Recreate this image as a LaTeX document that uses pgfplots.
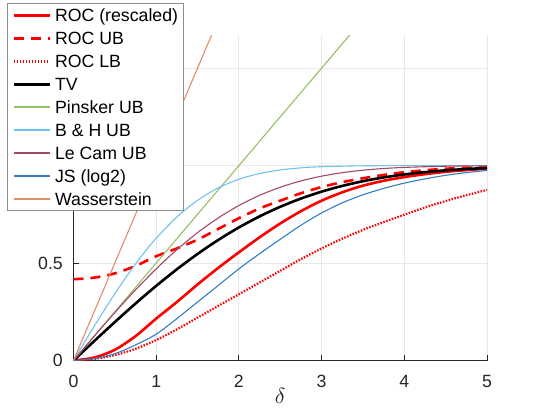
\documentclass[border=0pt]{standalone}
\usepackage{fontspec}
\setmainfont{Liberation Sans}
\usepackage{pgfplots}
\pgfplotsset{compat=1.18}

\definecolor{pinsk}{RGB}{150,190,100}
\definecolor{bandh}{RGB}{110,195,235}
\definecolor{lecam}{RGB}{165,70,105}
\definecolor{jsblue}{RGB}{50,125,195}
\definecolor{wass}{RGB}{225,140,105}
\definecolor{axgray}{RGB}{38,38,38}

\newcommand{\lfont}{\fontsize{8.85}{10.5}\selectfont}

\pgfplotsset{
    thinline/.style={draw=#1, line width=0.55pt,
        legend image code/.code={\draw[draw=#1, line width=1pt] (0pt,0pt) -- (18pt,0pt);}},
}

\begin{document}
\begin{tikzpicture}
\useasboundingbox (-36.75pt,-29.25pt) rectangle (233.75pt,180.25pt);
\begin{axis}[
    at={(0,0)}, anchor=south west,
    scale only axis,
    width=206.75pt, height=162.75pt,
    xmin=0, xmax=5, ymin=0, ymax=1.67,
    xtick={0,1,2,3,4,5},
    ytick={0,0.5,1,1.5},
    yticklabels={0,0.5,{},{}},
    axis x line*=bottom, axis y line*=left,
    axis line style={-, draw=axgray, line width=0.5pt},
    tick style={draw=axgray, line width=0.5pt},
    tick align=inside, major tick length=3pt,
    grid=major,
    major grid style={draw=black!9, line width=0.5pt},
    /pgf/number format/assume math mode=true,
    ticklabel style={font=\lfont, text=axgray},
    xticklabel style={yshift=-3.8pt},
    yticklabel style={xshift=-1.8pt},
    xlabel={$\delta$},
    xlabel style={at={(axis description cs:0.5,0)}, anchor=center,
        yshift=-17.5pt, font=\fontsize{11}{13}\selectfont, text=axgray},
    legend cell align=left,
    legend image code/.code={\draw[#1] (0pt,0pt) -- (18pt,0pt);},
    legend style={at={(-0.1608,1.0968)}, anchor=north west,
        draw=black!45, line width=0.5pt, fill=white, font=\lfont,
        inner xsep=2.5pt, inner ysep=0.5pt, row sep=1pt, column sep=2pt,
        nodes={draw=none, fill=none, inner sep=0pt,
               text height=8.45pt, text depth=2.05pt}},
]
% ROC (rescaled)
\addplot[draw=red, line width=1.3pt, smooth] table {
x y
0 0
0.25 0.015
0.5 0.055
0.75 0.125
1 0.215
1.25 0.30
1.5 0.39
1.75 0.475
2 0.555
2.25 0.632
2.5 0.703
2.75 0.766
3 0.82
3.25 0.863
3.5 0.897
3.75 0.922
4 0.941
4.25 0.956
4.5 0.968
4.75 0.977
5 0.984
};
\addlegendentry{ROC (rescaled)}
% ROC UB
\addplot[draw=red, line width=1.3pt, dash pattern=on 5pt off 3.5pt, smooth] table {
x y
0 0.417
0.25 0.425
0.5 0.447
0.75 0.485
1 0.535
1.25 0.575
1.5 0.62
1.75 0.675
2 0.73
2.25 0.78
2.5 0.82
2.75 0.858
3 0.89
3.25 0.915
3.5 0.935
3.75 0.952
4 0.966
4.25 0.976
4.5 0.984
4.75 0.989
5 0.992
};
\addlegendentry{ROC UB}
% ROC LB
\addplot[draw=red, line width=1.1pt, dash pattern=on 0.75pt off 0.75pt, smooth] table {
x y
0 0
0.25 0.008
0.5 0.028
0.75 0.06
1 0.105
1.25 0.16
1.5 0.22
1.75 0.28
2 0.34
2.25 0.40
2.5 0.46
2.75 0.52
3 0.575
3.25 0.625
3.5 0.67
3.75 0.71
4 0.748
4.25 0.785
4.5 0.818
4.75 0.848
5 0.875
};
\addlegendentry{ROC LB}
% TV
\addplot[draw=black, line width=1.3pt, smooth] table {
x y
0 0
0.25 0.0995
0.5 0.1974
0.75 0.2923
1 0.3829
1.25 0.4680
1.5 0.5467
1.75 0.6184
2 0.6827
2.25 0.7394
2.5 0.7887
2.75 0.8309
3 0.8664
3.25 0.8958
3.5 0.9199
3.75 0.9392
4 0.9545
4.25 0.9664
4.5 0.9756
4.75 0.9825
5 0.9876
};
\addlegendentry{TV}
% Pinsker UB
\addplot[thinline=pinsk] table {
x y
0 0
5 2.5
};
\addlegendentry{Pinsker UB}
% B & H UB
\addplot[thinline=bandh, smooth] table {
x y
0 0
0.125 0.0882
0.25 0.1754
0.375 0.2606
0.5 0.3428
0.625 0.4212
0.75 0.4951
0.875 0.5640
1 0.6273
1.25 0.7363
1.5 0.8218
1.75 0.8853
2 0.9299
2.25 0.9594
2.5 0.9778
2.75 0.9885
3 0.9944
3.5 0.9989
4 0.9998
4.5 1.0
5 1.0
};
\addlegendentry{B \& H UB}
% Le Cam UB
\addplot[thinline=lecam, smooth] table {
x y
0 0
0.25 0.1245
0.5 0.2461
0.75 0.3622
1 0.4703
1.25 0.5687
1.5 0.6559
1.75 0.7314
2 0.7951
2.25 0.8473
2.5 0.8890
2.75 0.9214
3 0.9458
3.25 0.9637
3.5 0.9763
3.75 0.9850
4 0.9908
4.5 0.9968
5 0.9990
};
\addlegendentry{Le Cam UB}
% JS (log2)
\addplot[thinline=jsblue, smooth] table {
x y
0 0
0.25 0.01
0.5 0.035
0.75 0.08
1 0.135
1.25 0.215
1.5 0.30
1.75 0.385
2 0.47
2.25 0.548
2.5 0.622
2.75 0.694
3 0.757
3.25 0.809
3.5 0.85
3.75 0.883
4 0.91
4.25 0.932
4.5 0.95
4.75 0.964
5 0.975
};
\addlegendentry{JS (log2)}
% Wasserstein
\addplot[thinline=wass] table {
x y
0 0
5 5
};
\addlegendentry{Wasserstein}
\end{axis}
\end{tikzpicture}
\end{document}
